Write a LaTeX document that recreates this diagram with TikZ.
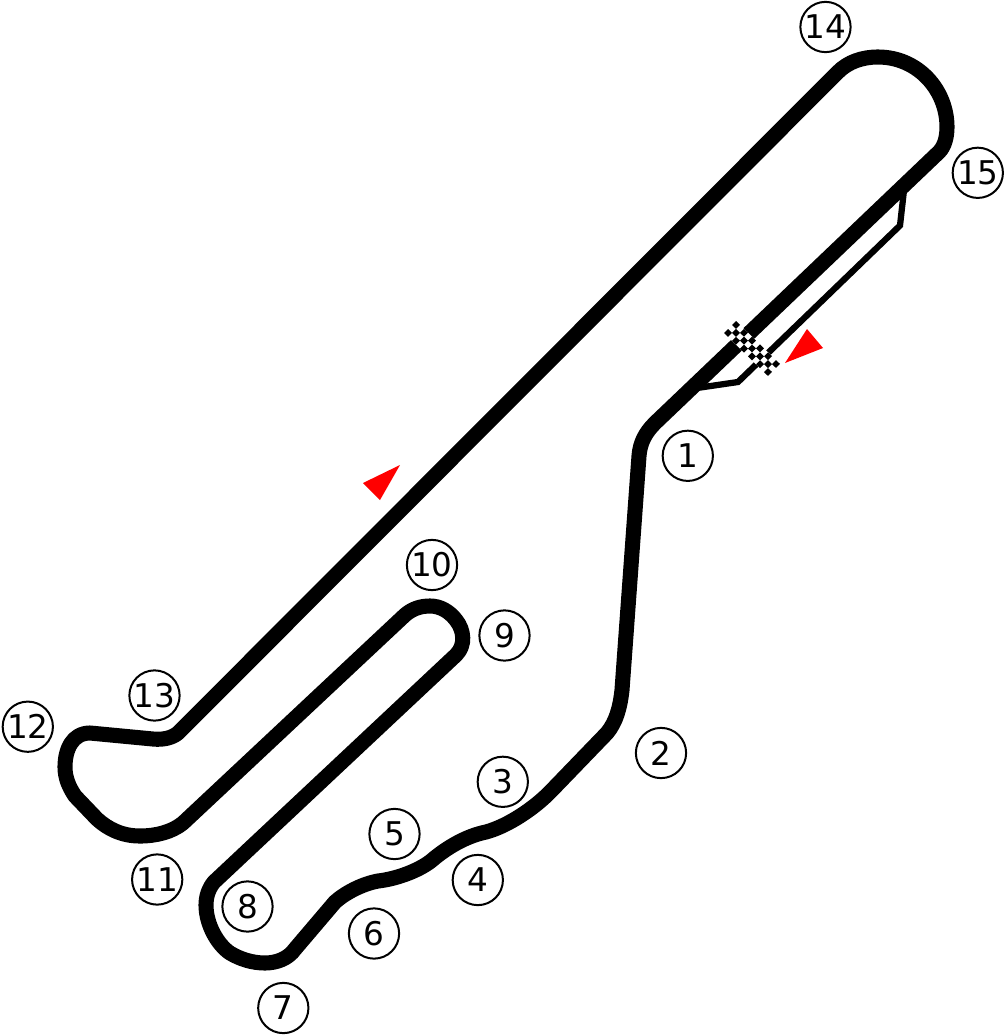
\documentclass[tikz,border=0pt]{standalone}
\usepackage{fontspec}
\setmainfont{DejaVu Sans}
\tikzset{
  turn/.style={circle,draw=black,line width=1.5pt,fill=white,minimum size=37.7pt,inner sep=0pt,font=\fontsize{24.5}{25}\selectfont},
  track/.style={draw=black,line width=11.3pt,line join=round},
  pit/.style={draw=black,line width=4.7pt,line join=miter},
  dirmark/.style={fill=red,draw=none}
}
\begin{document}
\begin{tikzpicture}[x=0.75pt,y=-0.75pt]
\useasboundingbox (0,0) rectangle (1005,1036);
% pit lane
\draw[pit] (697,388) -- (738,382) -- (900,225.5) -- (904,190);
% track
\draw[track] (939,152) -- (655,423)
 .. controls (645,433) and (640,443) .. (639,456)
 -- (622,690)
 .. controls (620,708) and (616,722) .. (607,733)
 -- (552,790)
 .. controls (535,808) and (508,826) .. (486,832)
 .. controls (466,836) and (446,848) .. (431,861)
 .. controls (418,871) and (396,879) .. (378,881)
 .. controls (362,884) and (345,893) .. (335,902)
 -- (295,949)
 .. controls (288,959) and (276,963) .. (265,963)
 .. controls (252,963) and (240,959) .. (230,953)
 .. controls (218,945) and (206,925) .. (206,905)
 .. controls (206,896) and (209,888) .. (214,882)
 -- (456,655)
 .. controls (466,645) and (464,630) .. (456,620)
 .. controls (449,611) and (440,606) .. (430,606)
 .. controls (420,606) and (412,609) .. (405,615)
 -- (183,823)
 .. controls (172,832) and (156,836) .. (140,836)
 .. controls (122,836) and (108,829) .. (97,819)
 -- (75,796)
 .. controls (69,787) and (65,778) .. (65,767)
 .. controls (65,750) and (72,733) .. (90,733)
 -- (153,739)
 .. controls (163,740) and (172,738) .. (178,733)
 -- (838,72)
 .. controls (848,62) and (862,57) .. (878,57)
 .. controls (918,57) and (947,90) .. (947,127)
 .. controls (947,136) and (945,146) .. (939,152)
 -- cycle;
% start/finish chequers
\begin{scope}[shift={(736,321)},x={(3pt,-2.93pt)},y={(-3pt,-3pt)}]
\fill[white] (0,0) -- (11,0) -- (11,3) -- (0,3) -- cycle;
\foreach \i in {0,...,10}{\foreach \j in {0,1,2}{
  \pgfmathtruncatemacro{\cellodd}{mod(\i+\j,2)}
  \ifnum\cellodd=0 \fill[black] (\i,\j) -- ++(1,0) -- ++(0,1) -- ++(-1,0) -- cycle;\fi
}}
\end{scope}
% direction marks
\fill[dirmark] (785,363) -- (807,329) -- (823,348) -- cycle;
\fill[dirmark] (400,465) -- (363,483) -- (380,500) -- cycle;
% corner numbers
\node[turn] (t1) at (687.8,455.8) {1};
\node[turn] (t2) at (661,753) {2};
\node[turn] (t3) at (502.8,781.8) {3};
\node[turn] (t4) at (477.8,880) {4};
\node[turn] (t5) at (394.5,834) {5};
\node[turn] (t6) at (374,933.5) {6};
\node[turn] (t7) at (283.3,1008) {7};
\node[turn] (t8) at (247.5,906.5) {8};
\node[turn] (t9) at (504.5,635.5) {9};
\node[turn] (t10) at (432,565) {10};
\node[turn] (t11) at (157.2,879.5) {11};
\node[turn] (t12) at (27.8,726.7) {12};
\node[turn] (t13) at (154.5,695.5) {13};
\node[turn] (t14) at (825.5,27) {14};
\node[turn] (t15) at (977.8,172.8) {15};
\end{tikzpicture}
\end{document}
